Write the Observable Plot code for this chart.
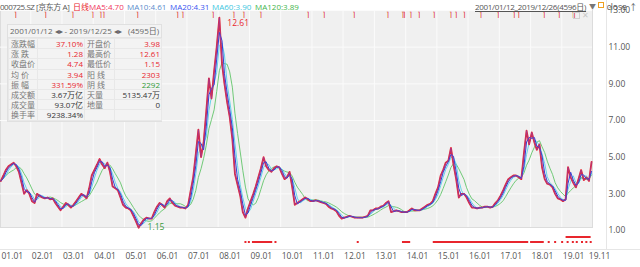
<!DOCTYPE html>
<html><head><meta charset="utf-8">
<script src="https://cdn.jsdelivr.net/npm/d3@7"></script>
<script src="https://cdn.jsdelivr.net/npm/@observablehq/plot@0.6"></script>
<style>
  html,body{margin:0;padding:0;background:#fff;}
  #wrap{position:relative;width:640px;height:267px;overflow:hidden;background:#fff;font-family:'Open Sans','Noto Sans CJK SC',sans-serif;font-size:8px;color:#555;}
  #chart,#strip{position:absolute;left:0;}
  #chart{top:0;} #strip{top:234px;}
  .hdr{position:absolute;top:1px;height:11px;line-height:11px;white-space:nowrap;font-size:8px;}
  #info{position:absolute;left:7px;top:24px;width:153px;border:1px solid #e0e0e0;background:#f3f3f3;}
  #info .top{height:12px;line-height:12px;padding-left:2px;color:#666;white-space:nowrap;font-size:8px;border-bottom:1px solid #e4e4e4;}
  #info table{border-collapse:collapse;width:153px;table-layout:fixed;}
  #info td{height:9.2px;line-height:9.2px;padding:0 1px;border:1px solid #e8e8e8;font-size:8px;white-space:nowrap;overflow:hidden;}
  #info td.l{color:#777;padding-left:2px;}
  #info td.v{text-align:right;color:#333;}
  #info td.r{color:#e8262d;}
  #info td.g{color:#2e9a35;}
  .vline{position:absolute;left:606px;top:0;width:1px;height:250px;background:#e6e6e6;}
  .hline{position:absolute;left:0;top:249px;width:640px;height:1px;background:#e6e6e6;}
</style>
</head><body>
<div id="wrap">
  <div id="chart"></div>
  <div id="strip"></div>
  <div class="vline"></div>
  <div class="hline"></div>
  <div class="hdr" style="left:0;color:#555;letter-spacing:-0.45px">000725.SZ [京东方 A]</div>
  <div class="hdr" style="left:73px;color:#e8262d">日线</div>
  <div class="hdr" style="left:89px;color:#f0365c">MA5:4.70</div>
  <div class="hdr" style="left:127px;color:#5b8ccc">MA10:4.61</div>
  <div class="hdr" style="left:170px;color:#3a55f0">MA20:4.31</div>
  <div class="hdr" style="left:212px;color:#3cc6e0">MA60:3.90</div>
  <div class="hdr" style="left:255px;color:#3fb54c">MA120:3.89</div>
  <div class="hdr" style="left:475px;color:#555;text-decoration:underline;letter-spacing:-0.3px">2001/01/12_2019/12/26(4596日)</div>
  <div class="hdr" style="left:589px;color:#777;font-size:7px;">▼</div>
  <div style="position:absolute;left:598px;top:2px;width:4px;height:4px;border:1px solid #f0a020;"></div>
  <div style="position:absolute;left:573px;top:12px;width:5px;height:5px;border:1px solid #d0d0d0;"></div>
  <div class="hdr" style="left:582px;top:9px;color:#c8c8c8;font-size:8px;">✕</div>
  <div id="info">
    <div class="top">2001/01/12 ◂▸ - 2019/12/25 ◂▸ &nbsp;&nbsp;(4595日)</div>
    <table id="tbl"></table>
  </div>
</div>
<script>
// ---- monthly closing prices ----
const y2001 = [3.7, 4.0, 4.3, 4.5, 4.6, 4.7, 4.5, 4.2, 3.6, 3.0, 3.2, 3.0];
const y2002 = [2.6, 2.5, 3.0, 2.9, 2.8, 2.75, 2.8, 2.7, 2.75, 2.5, 2.3, 2.1];
const y2003 = [2.3, 2.5, 2.4, 2.25, 2.4, 2.6, 2.8, 3.0, 2.9, 2.75, 3.3, 4.0];
const y2004 = [4.3, 4.6, 4.9, 4.6, 4.4, 4.7, 4.2, 3.4, 3.3, 3.2, 2.8, 2.4];
const y2005 = [2.25, 2.2, 2.1, 1.8, 1.5, 1.15, 1.4, 1.6, 1.7, 1.65, 1.65, 2.0];
const y2006 = [2.3, 2.5, 2.4, 2.25, 2.6, 2.75, 2.5, 2.35, 2.3, 2.25, 2.25, 2.2];
const y2007 = [2.4, 3.2, 3.9, 5.2, 6.5, 5.0, 5.8, 7.5, 9.3, 8.2, 9.7, 11.0];
const y2008 = [12.61, 10.1, 9.0, 8.0, 7.2, 6.0, 4.1, 3.5, 2.9, 2.0, 1.7, 2.2];
const y2009 = [2.6, 3.0, 3.4, 3.9, 4.4, 5.0, 4.5, 4.3, 4.2, 4.4, 4.5, 4.45];
const y2010 = [4.1, 3.8, 3.9, 4.2, 3.4, 2.4, 2.5, 2.6, 2.7, 2.8, 2.7, 2.6];
const y2011 = [2.6, 2.65, 2.6, 2.55, 2.5, 2.45, 2.3, 2.2, 2.15, 2.05, 1.8, 1.65];
const y2012 = [1.7, 1.75, 1.8, 1.75, 1.7, 1.7, 1.7, 1.7, 1.75, 1.8, 2.1, 2.1];
const y2013 = [2.2, 2.2, 2.3, 2.35, 2.5, 2.6, 2.0, 2.05, 2.1, 2.05, 2.0, 2.0];
const y2014 = [2.0, 2.1, 2.2, 2.1, 2.1, 2.1, 2.2, 2.3, 2.4, 2.45, 2.6, 3.0];
const y2015 = [3.35, 4.0, 4.3, 4.7, 4.8, 5.5, 4.6, 3.8, 2.8, 3.0, 3.0, 2.8];
const y2016 = [2.5, 2.25, 2.25, 2.2, 2.25, 2.25, 2.3, 2.3, 2.25, 2.3, 2.5, 2.65];
const y2017 = [2.9, 3.2, 3.5, 3.8, 3.9, 4.0, 4.0, 3.9, 3.8, 5.2, 6.45, 5.7];
const y2018 = [6.35, 5.8, 5.4, 5.7, 4.45, 3.8, 3.55, 3.5, 3.35, 3.0, 2.75, 2.7];
const y2019 = [2.6, 2.7, 4.45, 3.9, 3.6, 3.35, 3.8, 4.3, 3.75, 3.9, 3.7, 4.74];
const yearRows = [y2001,y2002,y2003,y2004,y2005,y2006,y2007,y2008,y2009,y2010,y2011,y2012,y2013,y2014,y2015,y2016,y2017,y2018,y2019];
const firstYear = 2001;

// axis
const dateStart = "2001-01-12", dateEnd = "2019-12-26";
const xTickDates = ["2001-01-12","2002-01-01","2003-01-01","2004-01-01","2005-01-01","2006-01-01","2007-01-01","2008-01-01","2009-01-01","2010-01-01","2011-01-01","2012-01-01","2013-01-01","2014-01-01","2015-01-01","2016-01-01","2017-01-01","2018-01-01","2019-01-01","2019-11-01"];
const yTicks = [1, 3, 5, 7, 9, 11, 13];

// event markers
const topMarks = ["2001-07-05","2002-06-20","2003-05-05","2003-12-25","2004-03-28","2004-05-01","2005-06-01","2006-09-10","2006-11-10","2007-11-01","2008-07-01","2008-10-25","2009-05-10","2010-11-15","2011-05-20","2012-05-05","2013-06-05","2013-11-28","2013-12-15","2014-03-01","2014-06-05","2014-11-28","2015-06-10","2015-08-10","2015-11-15","2016-05-28","2016-12-15","2017-06-20","2017-08-10","2018-06-05","2018-11-28","2019-05-10","2019-05-25"];
const bottomSpans = [
  {row:"b", start:"2009-02-05", end:"2009-09-30"},
  {row:"b", start:"2013-11-25", end:"2014-03-01"},
  {row:"b", start:"2014-11-20", end:"2017-12-10"},
  {row:"b", start:"2018-01-01", end:"2018-06-10"},
  {row:"a", start:"2019-02-20", end:"2019-12-10"}
];
const bottomDots = [
  {row:"b", date:"2008-11-15"},{row:"b", date:"2008-12-25"},{row:"b", date:"2009-11-01"},
  {row:"b", date:"2012-06-20"},{row:"b", date:"2018-08-01"},{row:"b", date:"2018-10-15"},
  {row:"b", date:"2019-01-05"},{row:"b", date:"2019-03-10"},{row:"b", date:"2019-05-10"},
  {row:"b", date:"2019-06-25"},{row:"b", date:"2019-08-25"},{row:"b", date:"2019-10-15"},{row:"b", date:"2019-12-05"}
];

// info panel
const infoLabels1 = ["涨跌幅","涨 跌","收盘价","均 价","振 幅","成交额","成交量","换手率"];
const infoValues1 = ["37.10%","1.28","4.74","3.94","331.59%","3.67万亿","93.07亿","9238.34%"];
const infoClass1  = ["r","r","r","r","r","","",""];
const infoLabels2 = ["开盘价","最高价","最低价","阳 线","阴 线","天量","地量",""];
const infoValues2 = ["3.98","12.61","1.15","2303","2292","5135.47万","0",""];
const infoClass2  = ["r","r","r","r","g","","",""];

// ---- build table ----
const data = [];
yearRows.forEach((row, i) => row.forEach((v, m) => data.push({date: new Date(Date.UTC(firstYear + i, m, 15)), close: v})));
const parse = d3.utcParse("%Y-%m-%d");
const xDomain = [parse(dateStart), parse(dateEnd)];
const xTicks = xTickDates.map(parse);

const W = 640, H = 267, mR = 48, mT = 10, mB = 40;
const red = "#e8262d";
const maxD = data.reduce((a, b) => b.close > a.close ? b : a);
const minD = data.reduce((a, b) => b.close < a.close ? b : a);

const chart = Plot.plot({
  width: W, height: H,
  marginLeft: 0, marginRight: mR, marginTop: mT, marginBottom: mB,
  style: {fontFamily: "'Open Sans','Noto Sans CJK SC',sans-serif", fontSize: "8.5px", background: "transparent", color: "#555"},
  x: {type: "utc", domain: xDomain},
  y: {domain: [1, 13], range: [230, 10]},
  marks: [
    Plot.frame({fill: "#f0f0f0", stroke: "#dcdcdc"}),
    Plot.gridX({ticks: xTicks.slice(1, -1), stroke: "#fbfbfb", strokeOpacity: 1}),
    Plot.gridY({ticks: yTicks.slice(1), stroke: "#fbfbfb", strokeOpacity: 1}),
    Plot.axisY({anchor: "right", ticks: yTicks, tickSize: 0, tickPadding: 16, tickFormat: d => d.toFixed(2), fill: "#555"}),
    Plot.axisX({ticks: xTicks, tickSize: 0, tickPadding: 25, tickFormat: d3.utcFormat("%y.%m"), textAnchor: "start", dx: 1, fill: "#555"}),
    Plot.lineY(data, Plot.windowY({k: 6, anchor: "end"}, {x: "date", y: "close", stroke: "#62c56a", strokeWidth: 0.9})),
    Plot.lineY(data, Plot.windowY({k: 3, anchor: "end"}, {x: "date", y: "close", stroke: "#55d0e6", strokeWidth: 0.9})),
    Plot.lineY(data, {x: "date", y: "close", stroke: red, strokeWidth: 1.8}),
    Plot.lineY(data, Plot.windowY({k: 2, anchor: "end"}, {x: "date", y: "close", stroke: "#3340d8", strokeWidth: 1})),
    Plot.lineY(data, {x: "date", y: "close", stroke: "#8a3fb8", strokeWidth: 0.7, strokeOpacity: 0.8}),
    Plot.text(topMarks.map(parse), {x: d => d, frameAnchor: "top", dy: 2, text: () => "⌉", fill: "#e01a22", fontSize: 7, fontFamily: "DejaVu Sans"}),
    Plot.text([maxD], {x: "date", y: "close", text: d => d.close.toFixed(2), dx: 8, dy: 6, textAnchor: "start", fill: red}),
    Plot.text([minD], {x: "date", y: "close", text: d => d.close.toFixed(2), dx: 9, dy: 0, textAnchor: "start", fill: "#3a9a3a"})
  ]
});
document.getElementById("chart").appendChild(chart);

const strip = Plot.plot({
  width: W, height: 12,
  marginLeft: 0, marginRight: mR, marginTop: 0, marginBottom: 0,
  style: {background: "transparent"},
  x: {type: "utc", domain: xDomain, axis: null},
  y: {domain: ["a", "b"], axis: null, padding: 0.15},
  marks: [
    Plot.barX(bottomSpans, {x1: d => parse(d.start), x2: d => parse(d.end), y: "row", fill: red, insetTop: 1, insetBottom: 1}),
    Plot.tickX(bottomDots, {x: d => parse(d.date), y: "row", stroke: red, strokeWidth: 2, insetTop: 1, insetBottom: 1})
  ]
});
document.getElementById("strip").appendChild(strip);

const tbl = document.getElementById("tbl");
tbl.innerHTML = '<colgroup><col style="width:29px"><col style="width:47px"><col style="width:30px"><col style="width:47px"></colgroup>' +
  infoLabels1.map((l, i) => `<tr><td class="l">${l}</td><td class="v ${infoClass1[i]}">${infoValues1[i]}</td><td class="l">${infoLabels2[i]}</td><td class="v ${infoClass2[i]}">${infoValues2[i]}</td></tr>`).join("");
</script>
</body></html>
